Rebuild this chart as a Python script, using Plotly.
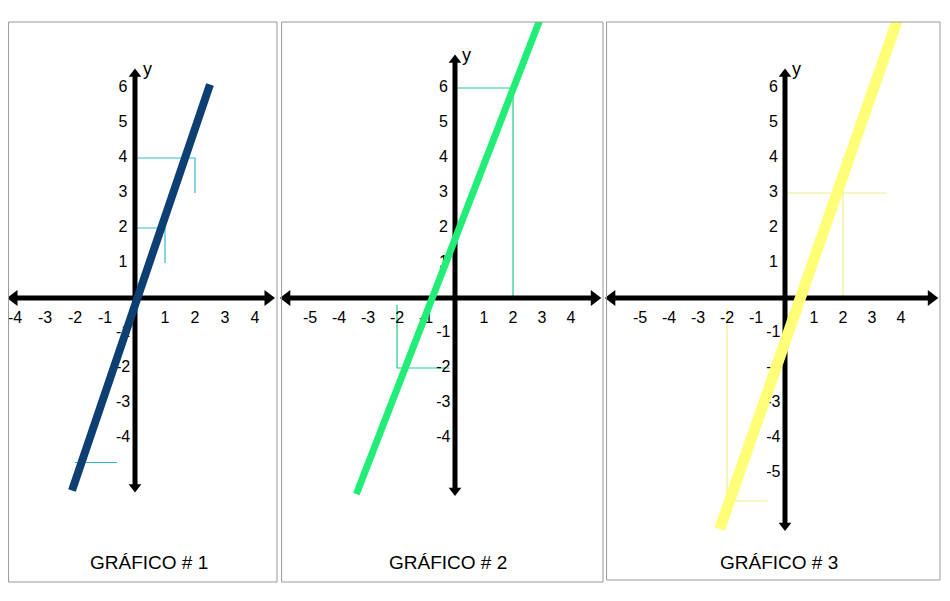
import plotly.graph_objects as go

# the page has an 8px body margin, so the figure is drawn 8px smaller and shifted
OFF = 8
W, H = 950 - OFF, 601 - OFF

# panel boxes in page pixels (left, right, top, bottom) and axis origin / scale
boxes = [(8, 277, 22, 582), (281, 603, 22, 582), (606, 940, 22, 580)]
origins = [(135, 298), (455, 298), (785, 298)]
scales = [(30, 35), (29, 35), (29, 35)]

titles = ["GRÁFICO # 1", "GRÁFICO # 2", "GRÁFICO # 3"]
x_ticks = [[-4, -3, -2, -1, 1, 2, 3, 4],
           [-5, -4, -3, -2, -1, 1, 2, 3, 4],
           [-5, -4, -3, -2, -1, 1, 2, 3, 4]]
y_ticks = [[6, 5, 4, 3, 2, 1, -1, -2, -3, -4],
           [6, 5, 4, 3, 2, 1, -1, -2, -3, -4],
           [6, 5, 4, 3, 2, 1, -1, -2, -3, -4, -5]]
y_axis_ends = [(6.4, -5.4), (6.8, -5.5), (6.4, -6.5)]

line_x = [[-2.1, 2.5], [-3.4, 2.95], [-2.25, 3.9]]
line_y = [[-5.5, 6.1], [-5.6, 8.0], [-6.6, 8.0]]
line_colors = ["#0d3f73", "#22ee77", "#ffff77"]
line_widths = [8, 7, 11]
guide_colors = ["#33bbcc", "#22cc88", "#eeee88"]
guides = [
    [([0, 2, 2], [4, 4, 3]), ([0, 1, 1], [2, 2, 1]), ([-2, -0.6], [-4.7, -4.7])],
    [([0, 2, 2], [6, 6, 0]), ([-2, -2, -0.2], [-0.2, -2, -2])],
    [([0, 3.5], [3, 3]), ([2, 2], [4, 0]), ([-2, -2, -0.6], [-0.3, -5.8, -5.8])],
]


def px(v):
    return (v - OFF) / W


def py(v):
    return 1 - (v - OFF) / H


fig = go.Figure()
shapes, annots = [], []
for i in range(3):
    l, r, t, b = boxes[i]
    ox, oy = origins[i]
    sx, sy = scales[i]
    xa = "x" if i == 0 else f"x{i+1}"
    ya = "y" if i == 0 else f"y{i+1}"
    lay_x = "xaxis" if i == 0 else f"xaxis{i+1}"
    lay_y = "yaxis" if i == 0 else f"yaxis{i+1}"
    l2 = max(l, OFF)
    xr = [(l2 - ox) / sx, (r - ox) / sx]
    yr = [(oy - b) / sy, (oy - t) / sy]
    fig.layout[lay_x] = dict(domain=[px(l2), px(r)], range=xr, visible=False,
                             fixedrange=True, anchor=ya)
    fig.layout[lay_y] = dict(domain=[py(b), py(t)], range=yr, visible=False,
                             anchor=xa, fixedrange=True)
    shapes.append(dict(type="rect", xref="paper", yref="paper", x0=px(l2) + 0.0006, x1=px(r),
                       y0=py(b), y1=py(t), line=dict(color="#999", width=1)))
    # guides
    for gx, gy in guides[i]:
        fig.add_trace(go.Scatter(x=gx, y=gy, mode="lines", xaxis=xa, yaxis=ya,
                                 line=dict(color=guide_colors[i], width=1.2), hoverinfo="skip"))
    # axes
    x0, x1 = (l - ox) / sx + 0.2, xr[1] - 0.3
    fig.add_trace(go.Scatter(x=[x0, x1], y=[0, 0], mode="lines", xaxis=xa, yaxis=ya,
                             line=dict(color="black", width=5), hoverinfo="skip"))
    fig.add_trace(go.Scatter(x=[x0, x1], y=[0, 0], mode="markers", xaxis=xa, yaxis=ya,
                             marker=dict(symbol=["triangle-left", "triangle-right"], size=14,
                                         color="black"), hoverinfo="skip", cliponaxis=False))
    yt, yb = y_axis_ends[i]
    fig.add_trace(go.Scatter(x=[0, 0], y=[yb, yt], mode="lines", xaxis=xa, yaxis=ya,
                             line=dict(color="black", width=5), hoverinfo="skip"))
    fig.add_trace(go.Scatter(x=[0, 0], y=[yb, yt], mode="markers", xaxis=xa, yaxis=ya,
                             marker=dict(symbol=["triangle-down", "triangle-up"], size=11,
                                         color="black"), hoverinfo="skip"))
    # tick labels
    fig.add_trace(go.Scatter(x=x_ticks[i], y=[-0.6] * len(x_ticks[i]), mode="text",
                             text=[str(v) for v in x_ticks[i]], xaxis=xa, yaxis=ya,
                             textfont=dict(family="Liberation Sans", size=16, color="black"),
                             hoverinfo="skip", cliponaxis=False))
    fig.add_trace(go.Scatter(x=[-0.4] * len(y_ticks[i]), y=y_ticks[i], mode="text",
                             text=[str(v) for v in y_ticks[i]], xaxis=xa, yaxis=ya,
                             textfont=dict(family="Liberation Sans", size=16, color="black"),
                             hoverinfo="skip"))
    # main line
    fig.add_trace(go.Scatter(x=line_x[i], y=line_y[i], mode="lines", xaxis=xa, yaxis=ya,
                             line=dict(color=line_colors[i], width=line_widths[i]),
                             hoverinfo="skip"))
    annots.append(dict(x=0.4, y=yt + 0.15, xref=xa, yref=ya, text="y", showarrow=False,
                       font=dict(family="Liberation Sans", size=18, color="black")))
    annots.append(dict(x=x1 + 0.45, y=0.3, xref=xa, yref=ya, text="x", showarrow=False,
                       font=dict(family="Liberation Sans", size=18, color="black")))
    annots.append(dict(x=px((l + r) / 2 + 6), y=py(562), xref="paper", yref="paper",
                       xanchor="center", yanchor="middle",
                       text=titles[i], showarrow=False,
                       font=dict(family="Liberation Sans", size=19, color="black")))

fig.update_layout(width=W, height=H, margin=dict(l=0, r=0, t=0, b=0), showlegend=False,
                  plot_bgcolor="white", paper_bgcolor="white", shapes=shapes, annotations=annots)
fig.write_html("out.html")
